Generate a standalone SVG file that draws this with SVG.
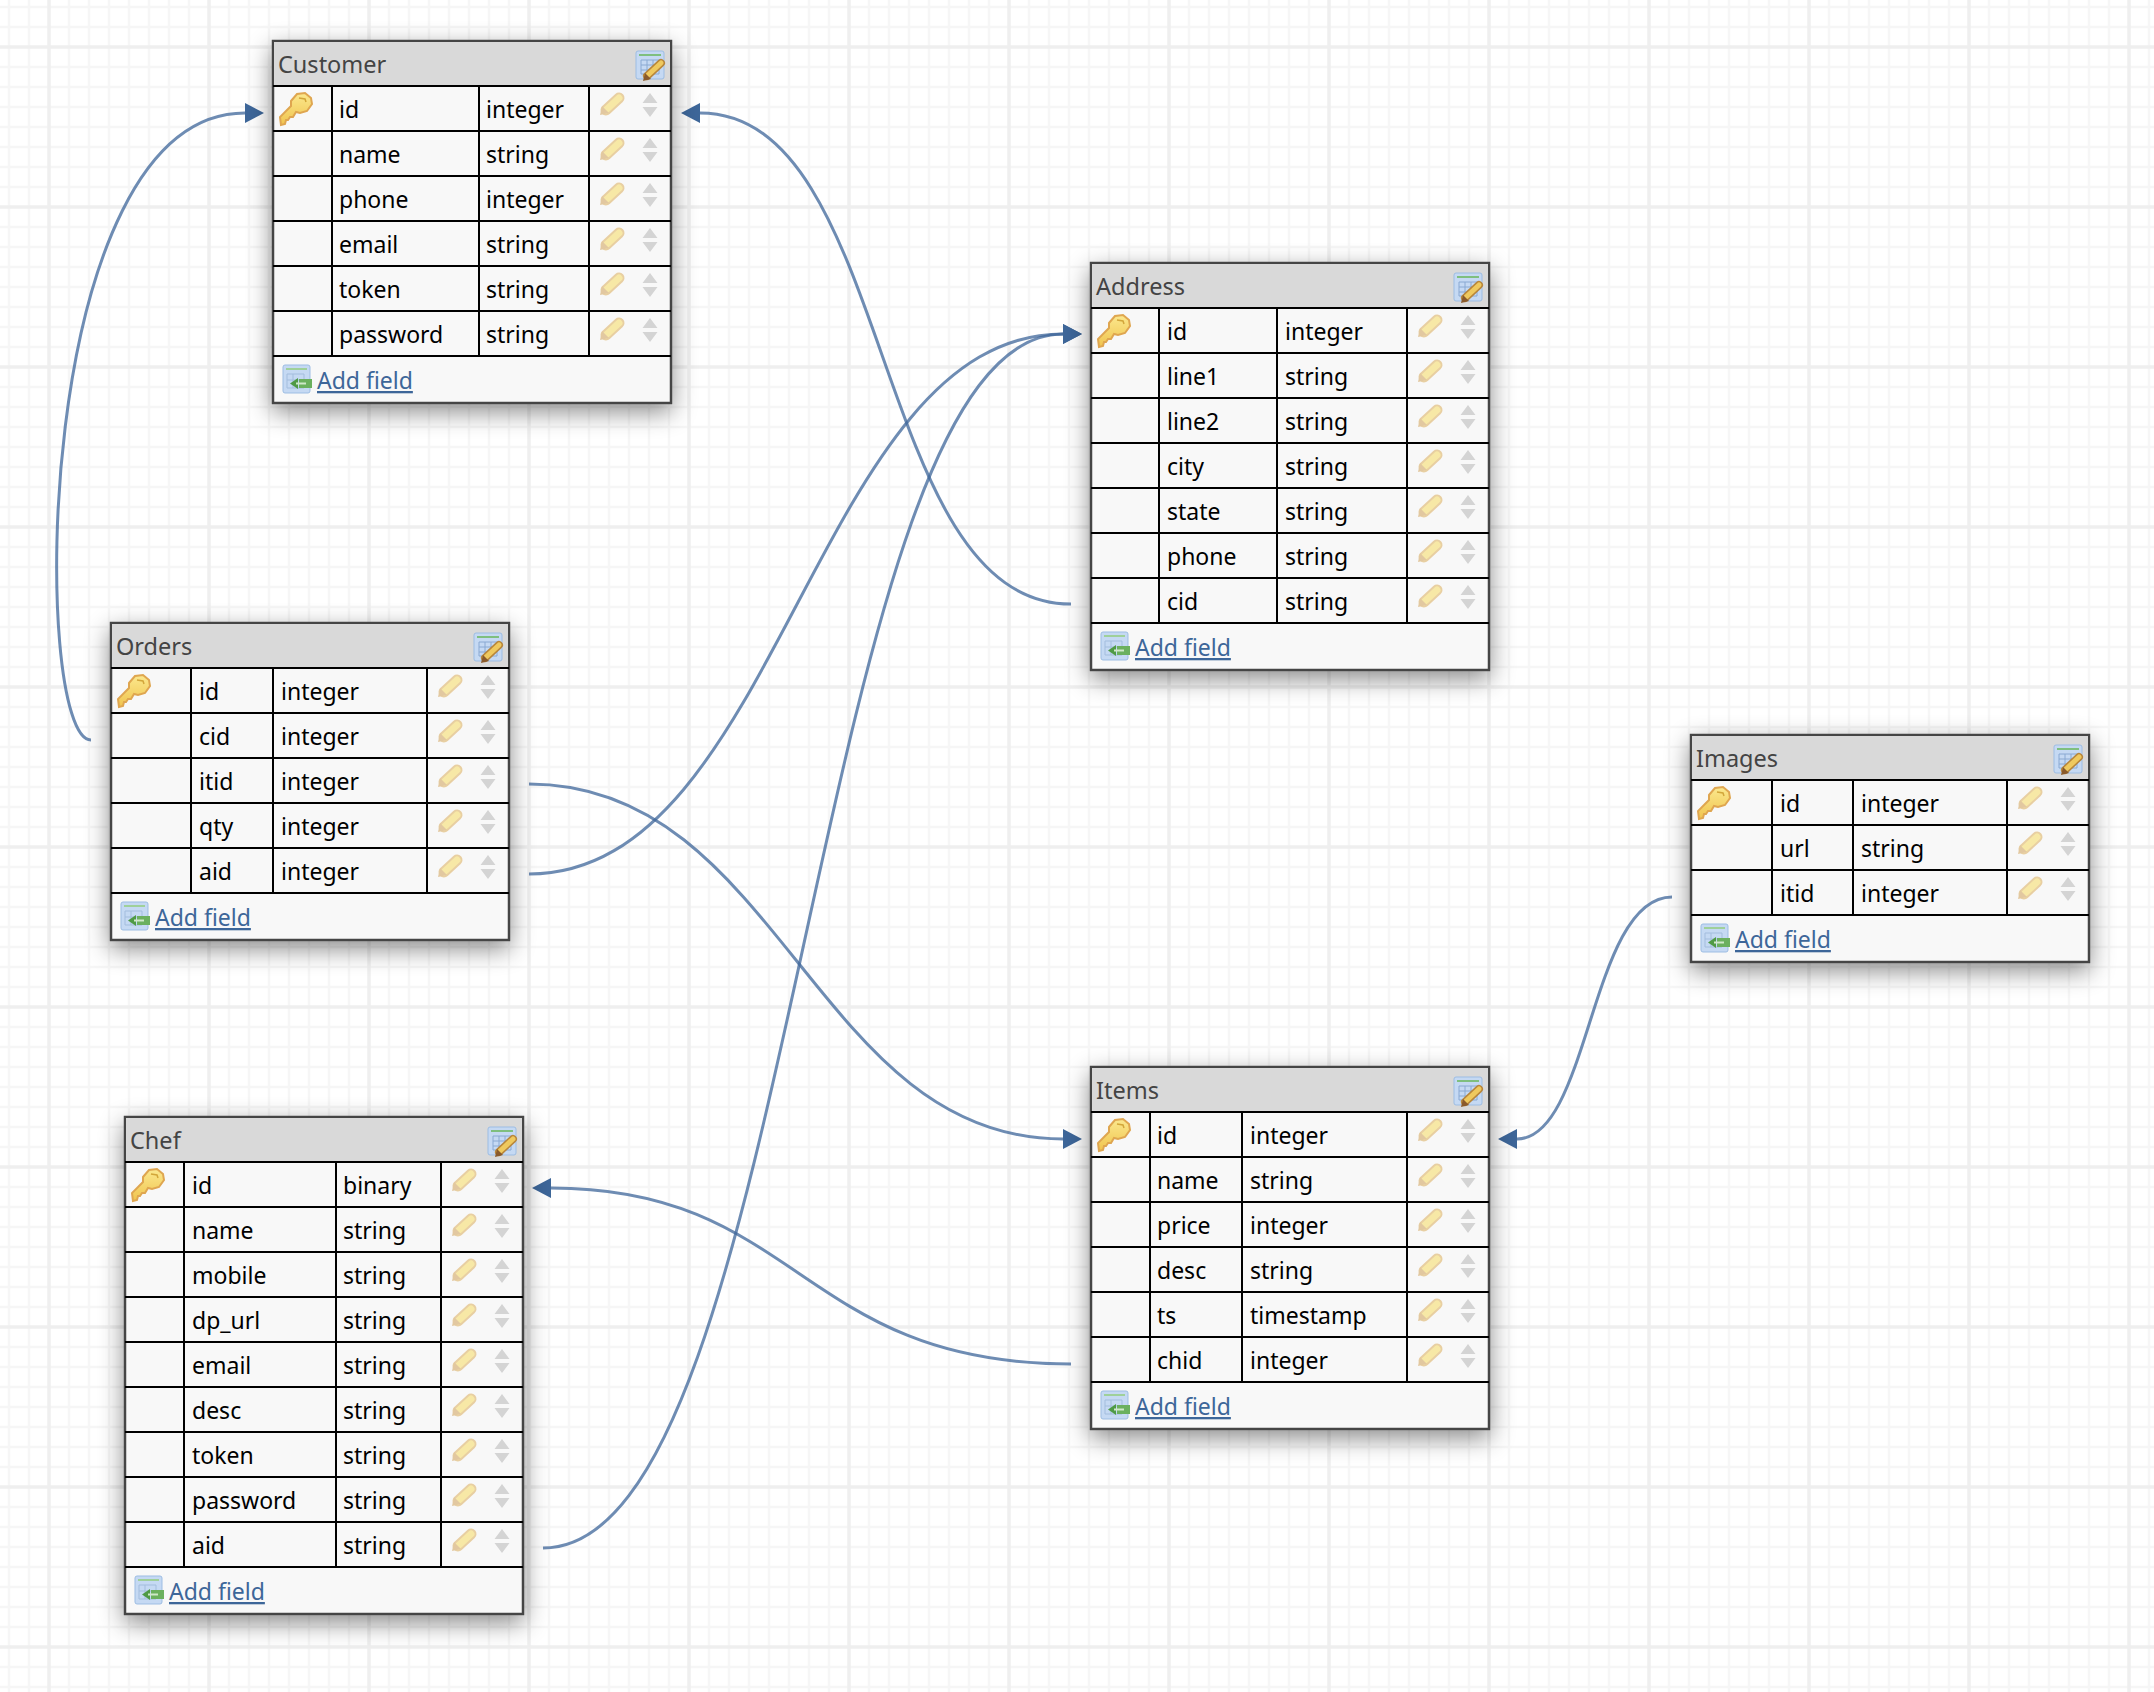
<svg xmlns="http://www.w3.org/2000/svg" width="2154" height="1692" viewBox="0 0 2154 1692">
<style>
text{font-family:"Noto Sans","Open Sans",sans-serif;font-size:23px;fill:#000}
.t{fill:#444;font-size:23.500px}
.a{fill:#3d6699;text-decoration:underline}
.box{fill:#f8f8f8;stroke:#444;stroke-width:2.500}
.hd{fill:#d9d9d9}
.ln{fill:none;stroke:#000;stroke-width:2}
.c{fill:none;stroke:#3d6699;stroke-width:3;stroke-opacity:.75}
.g1{stroke:#f6f6f6;stroke-width:2.500;fill:none}
.g2{stroke:#efefef;stroke-width:3.500;fill:none}
</style>
<defs>
<pattern id="minor" width="20" height="20" patternUnits="userSpaceOnUse" x="9" y="7"><path d="M0 0H20M0 0V20M0 20H20M20 0V20" class="g1"/></pattern>
<pattern id="major" width="160" height="160" patternUnits="userSpaceOnUse" x="49" y="47"><path d="M0 0H160M0 0V160M0 160H160M160 0V160" class="g2"/></pattern>
<marker id="arr" markerUnits="userSpaceOnUse" markerWidth="20" markerHeight="22" refX="0" refY="11" orient="auto"><path d="M0 1L19 11L0 21Z" fill="#3d6699"/></marker>
<linearGradient id="gold" x1="0" y1="0" x2="0" y2="1"><stop offset="0" stop-color="#fbe88e"/><stop offset="1" stop-color="#f0c44e"/></linearGradient>
<filter id="sh" x="-20%" y="-20%" width="140%" height="140%"><feDropShadow dx="0" dy="8" stdDeviation="12" flood-color="#000" flood-opacity=".45"/></filter>
<g id="key"><path d="M291 101L297 94L305 93L311 98L312 104L307 111L300 113L296 112L293 117L290 117L288 120L286 120L285 124L281 125L280 117L291 106Z" fill="url(#gold)" stroke="#dfa650" stroke-width="2"/><path d="M299 98L305 99L306 102" fill="none" stroke="#d2a63a" stroke-width="1.500"/></g>
<g id="rowicons">
<path d="M-65 24L-52 12" stroke="#e8cfa2" stroke-width="11" stroke-linecap="round"/>
<path d="M-65 24L-52 12" stroke="#f7e8a6" stroke-width="7" stroke-linecap="round"/>
<path d="M-71 29L-69 20L-62 27Z" fill="#e2c8a0"/>
<path d="M-28.500 17L-21 7L-13.500 17Z M-28.500 21L-21 31L-13.500 21Z" fill="#d4d4d4"/>
</g>
<g id="edit"><rect x="0" y="-1" width="28" height="28" rx="2" fill="#c5d9f3" stroke="#9dbde3"/><path d="M3 3H25" stroke="#7fbf7f" stroke-width="2"/><path d="M5 8H23V22H5ZM5 13H23M5 18H23M11 8V22M17 8V22" fill="none" stroke="#8aa9d2"/><path d="M11 24L25 11" stroke="#b8863b" stroke-width="8" stroke-linecap="round"/><path d="M11 24L25 11" stroke="#efc95e" stroke-width="5" stroke-linecap="round"/><path d="M7 29L9 21L15 27Z" fill="#8a5a2b"/></g>
<g id="add"><rect x="1" y="0" width="27" height="28" rx="2" fill="#c5d9f3" stroke="#9dbde3"/><path d="M4 4H25" stroke="#9fd09a" stroke-width="2"/><path d="M5 9H22V23H5ZM5 15H22M11 9V23" fill="none" stroke="#a3bddd"/><rect x="17" y="14" width="13" height="9" fill="#6bb05e"/><path d="M8 18.500L16 13V24Z" fill="#4f9a45"/><path d="M14 17.500H24V19.500H14Z" fill="#cfe8c8"/></g>
</defs>
<rect width="2154" height="1692" fill="#fff"/>
<g id="grid"><rect width="2154" height="1692" fill="url(#minor)"/><rect width="2154" height="1692" fill="url(#major)"/></g>
<g id="connectors">
<path class="c" marker-end="url(#arr)" d="M91 740C31 740 31 113 245 113"/>
<path class="c" marker-end="url(#arr)" d="M1071 604C870 604 895 113 700 113"/>
<path class="c" marker-end="url(#arr)" d="M529 874C780 874 815 334 1063 334"/>
<path class="c" marker-end="url(#arr)" d="M543 1548C800 1548 810 334 1063 334"/>
<path class="c" marker-end="url(#arr)" d="M529 784C780 784 815 1139 1063 1139"/>
<path class="c" marker-end="url(#arr)" d="M1071 1364C800 1364 800 1188 551 1188"/>
<path class="c" marker-end="url(#arr)" d="M1672 897C1590 897 1590 1139 1517 1139"/>
</g>
<g id="Customer">
<rect class="box" x="273" y="41" width="398" height="362" filter="url(#sh)"/>
<rect class="hd" x="274" y="42" width="396" height="44"/>
<path class="ln" d="M273 86H671M273 131H671M273 176H671M273 221H671M273 266H671M273 311H671M273 356H671M332 86V356M479 86V356M589 86V356"/>
<use href="#edit" x="636" y="52"/><use href="#key"/>
<use href="#rowicons" x="671" y="86"/><use href="#rowicons" x="671" y="131"/><use href="#rowicons" x="671" y="176"/><use href="#rowicons" x="671" y="221"/><use href="#rowicons" x="671" y="266"/><use href="#rowicons" x="671" y="311"/>
<text class="t" x="278" y="73">Customer</text>
<text x="339" y="118">id</text><text x="486" y="118">integer</text>
<text x="339" y="163">name</text><text x="486" y="163">string</text>
<text x="339" y="208">phone</text><text x="486" y="208">integer</text>
<text x="339" y="253">email</text><text x="486" y="253">string</text>
<text x="339" y="298">token</text><text x="486" y="298">string</text>
<text x="339" y="343">password</text><text x="486" y="343">string</text>
<use href="#add" x="282" y="365"/><text class="a" x="317" y="389">Add field</text>
</g>
<g id="Address">
<rect class="box" x="1091" y="263" width="398" height="407" filter="url(#sh)"/>
<rect class="hd" x="1092" y="264" width="396" height="44"/>
<path class="ln" d="M1091 308H1489M1091 353H1489M1091 398H1489M1091 443H1489M1091 488H1489M1091 533H1489M1091 578H1489M1091 623H1489M1159 308V623M1277 308V623M1407 308V623"/>
<use href="#edit" x="1454" y="274"/><use href="#key" transform="translate(818 222)"/>
<use href="#rowicons" x="1489" y="308"/><use href="#rowicons" x="1489" y="353"/><use href="#rowicons" x="1489" y="398"/><use href="#rowicons" x="1489" y="443"/><use href="#rowicons" x="1489" y="488"/><use href="#rowicons" x="1489" y="533"/><use href="#rowicons" x="1489" y="578"/>
<text class="t" x="1096" y="295">Address</text>
<text x="1167" y="340">id</text><text x="1285" y="340">integer</text>
<text x="1167" y="385">line1</text><text x="1285" y="385">string</text>
<text x="1167" y="430">line2</text><text x="1285" y="430">string</text>
<text x="1167" y="475">city</text><text x="1285" y="475">string</text>
<text x="1167" y="520">state</text><text x="1285" y="520">string</text>
<text x="1167" y="565">phone</text><text x="1285" y="565">string</text>
<text x="1167" y="610">cid</text><text x="1285" y="610">string</text>
<use href="#add" x="1100" y="632"/><text class="a" x="1135" y="656">Add field</text>
</g>
<g id="Orders">
<rect class="box" x="111" y="623" width="398" height="317" filter="url(#sh)"/>
<rect class="hd" x="112" y="624" width="396" height="44"/>
<path class="ln" d="M111 668H509M111 713H509M111 758H509M111 803H509M111 848H509M111 893H509M191 668V893M273 668V893M427 668V893"/>
<use href="#edit" x="474" y="634"/><use href="#key" transform="translate(-162 582)"/>
<use href="#rowicons" x="509" y="668"/><use href="#rowicons" x="509" y="713"/><use href="#rowicons" x="509" y="758"/><use href="#rowicons" x="509" y="803"/><use href="#rowicons" x="509" y="848"/>
<text class="t" x="116" y="655">Orders</text>
<text x="199" y="700">id</text><text x="281" y="700">integer</text>
<text x="199" y="745">cid</text><text x="281" y="745">integer</text>
<text x="199" y="790">itid</text><text x="281" y="790">integer</text>
<text x="199" y="835">qty</text><text x="281" y="835">integer</text>
<text x="199" y="880">aid</text><text x="281" y="880">integer</text>
<use href="#add" x="120" y="902"/><text class="a" x="155" y="926">Add field</text>
</g>
<g id="Images">
<rect class="box" x="1691" y="735" width="398" height="227" filter="url(#sh)"/>
<rect class="hd" x="1692" y="736" width="396" height="44"/>
<path class="ln" d="M1691 780H2089M1691 825H2089M1691 870H2089M1691 915H2089M1772 780V915M1853 780V915M2007 780V915"/>
<use href="#edit" x="2054" y="746"/><use href="#key" transform="translate(1418 694)"/>
<use href="#rowicons" x="2089" y="780"/><use href="#rowicons" x="2089" y="825"/><use href="#rowicons" x="2089" y="870"/>
<text class="t" x="1696" y="767">Images</text>
<text x="1780" y="812">id</text><text x="1861" y="812">integer</text>
<text x="1780" y="857">url</text><text x="1861" y="857">string</text>
<text x="1780" y="902">itid</text><text x="1861" y="902">integer</text>
<use href="#add" x="1700" y="924"/><text class="a" x="1735" y="948">Add field</text>
</g>
<g id="Items">
<rect class="box" x="1091" y="1067" width="398" height="362" filter="url(#sh)"/>
<rect class="hd" x="1092" y="1068" width="396" height="44"/>
<path class="ln" d="M1091 1112H1489M1091 1157H1489M1091 1202H1489M1091 1247H1489M1091 1292H1489M1091 1337H1489M1091 1382H1489M1150 1112V1382M1242 1112V1382M1407 1112V1382"/>
<use href="#edit" x="1454" y="1078"/><use href="#key" transform="translate(818 1026)"/>
<use href="#rowicons" x="1489" y="1112"/><use href="#rowicons" x="1489" y="1157"/><use href="#rowicons" x="1489" y="1202"/><use href="#rowicons" x="1489" y="1247"/><use href="#rowicons" x="1489" y="1292"/><use href="#rowicons" x="1489" y="1337"/>
<text class="t" x="1096" y="1099">Items</text>
<text x="1157" y="1144">id</text><text x="1250" y="1144">integer</text>
<text x="1157" y="1189">name</text><text x="1250" y="1189">string</text>
<text x="1157" y="1234">price</text><text x="1250" y="1234">integer</text>
<text x="1157" y="1279">desc</text><text x="1250" y="1279">string</text>
<text x="1157" y="1324">ts</text><text x="1250" y="1324">timestamp</text>
<text x="1157" y="1369">chid</text><text x="1250" y="1369">integer</text>
<use href="#add" x="1100" y="1391"/><text class="a" x="1135" y="1415">Add field</text>
</g>
<g id="Chef">
<rect class="box" x="125" y="1117" width="398" height="497" filter="url(#sh)"/>
<rect class="hd" x="126" y="1118" width="396" height="44"/>
<path class="ln" d="M125 1162H523M125 1207H523M125 1252H523M125 1297H523M125 1342H523M125 1387H523M125 1432H523M125 1477H523M125 1522H523M125 1567H523M184 1162V1567M336 1162V1567M441 1162V1567"/>
<use href="#edit" x="488" y="1128"/><use href="#key" transform="translate(-148 1076)"/>
<use href="#rowicons" x="523" y="1162"/><use href="#rowicons" x="523" y="1207"/><use href="#rowicons" x="523" y="1252"/><use href="#rowicons" x="523" y="1297"/><use href="#rowicons" x="523" y="1342"/><use href="#rowicons" x="523" y="1387"/><use href="#rowicons" x="523" y="1432"/><use href="#rowicons" x="523" y="1477"/><use href="#rowicons" x="523" y="1522"/>
<text class="t" x="130" y="1149">Chef</text>
<text x="192" y="1194">id</text><text x="343" y="1194">binary</text>
<text x="192" y="1239">name</text><text x="343" y="1239">string</text>
<text x="192" y="1284">mobile</text><text x="343" y="1284">string</text>
<text x="192" y="1329">dp_url</text><text x="343" y="1329">string</text>
<text x="192" y="1374">email</text><text x="343" y="1374">string</text>
<text x="192" y="1419">desc</text><text x="343" y="1419">string</text>
<text x="192" y="1464">token</text><text x="343" y="1464">string</text>
<text x="192" y="1509">password</text><text x="343" y="1509">string</text>
<text x="192" y="1554">aid</text><text x="343" y="1554">string</text>
<use href="#add" x="134" y="1576"/><text class="a" x="169" y="1600">Add field</text>
</g>
</svg>
